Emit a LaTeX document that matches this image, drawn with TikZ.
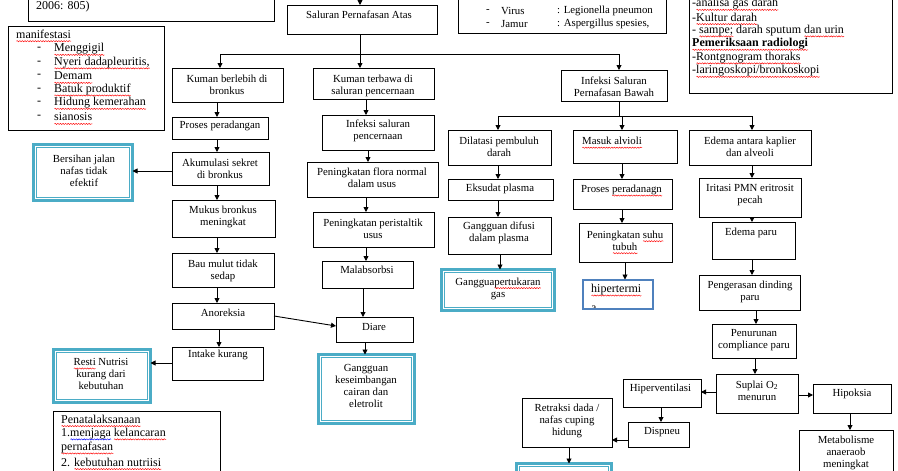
\documentclass[tikz,border=0pt]{standalone}
\usepackage{fontspec}
\setmainfont{Liberation Serif}
\usetikzlibrary{arrows.meta,decorations.pathmorphing}
\definecolor{cy}{RGB}{75,172,198}
\definecolor{bl}{RGB}{79,129,189}
\newsavebox\wvb
\newdimen\wvd
\newcommand\wv[2]{\sbox\wvb{#2}\wvd=\wd\wvb\smash{\rlap{\tikz[baseline={(0pt,3pt)}]\draw[#1,line width=0.45pt,decorate,decoration={snake,amplitude=0.6pt,segment length=2.6pt}] (0pt,0pt) -- (\the\wvd,0pt);}}\usebox\wvb}
\newcommand\rw[1]{\wv{red}{#1}}
\newcommand\bw[1]{\wv{blue}{#1}}
\tikzset{
 bxs/.style={draw,line width=0.9pt,inner sep=0pt,outer sep=0pt},
 cbs/.style={draw=cy,line width=3pt,inner sep=0pt,outer sep=0pt},
 ft/.style={font=\fontsize{10.8}{12}\selectfont,align=center,inner sep=0pt},
 lt/.style={font=\fontsize{12}{13.5}\selectfont,align=left,inner sep=0pt,anchor=west},
 arr/.style={line width=0.9pt,-{Triangle[length=5pt,width=5pt]}},
 ln/.style={line width=0.9pt}
}
\newcommand\bx[5]{\node[bxs,minimum width={#3-#1},minimum height={#4-#2}] (#5) at ({(#1+#3)/2},{(#2+#4)/2}) {};}
\newcommand\cbx[5]{\node[cbs,minimum width={#3-#1-3},minimum height={#4-#2-3}] (#5) at ({(#1+#3)/2},{(#2+#4)/2}) {};
\draw[draw=cy,line width=0.8pt] ([shift={(3,3)}]#5.north west) rectangle ([shift={(-3,-3)}]#5.south east);}
\begin{document}
\begin{tikzpicture}[x=1pt,y=-1pt]
\useasboundingbox (0,0) rectangle (898,471);
\clip (0,0) rectangle (898,471);
% ---------- text boxes ----------
\bx{28}{-5}{274}{21}{T0}
\node[lt] (T0t) at (36,7) {2006: 805)};
\bx{8}{26}{164}{130}{M}
\node[lt] (Mt) at (16,34) {\rw{manifestasi}};
\node[lt] (Md1) at (37,49) {-}; \node[lt] (Mi1) at (54,49) {\rw{Menggigil}};
\node[lt] (Md2) at (37,62.5) {-}; \node[lt] (Mi2) at (54,62.5) {\rw{Nyeri dadapleuritis,}};
\node[lt] (Md3) at (37,76) {-}; \node[lt] (Mi3) at (54,76) {\rw{Demam}};
\node[lt] (Md4) at (37,89.5) {-}; \node[lt] (Mi4) at (54,89.5) {\rw{Batuk produktif}};
\node[lt] (Md5) at (37,103) {-}; \node[lt] (Mi5) at (54,103) {\rw{Hidung kemerahan}};
\node[lt] (Md6) at (37,117) {-}; \node[lt] (Mi6) at (54,117) {\rw{sianosis}};
\bx{458}{-5}{666}{33}{V}
\node[ft,anchor=west] (Vd1) at (486,11) {-}; \node[ft,anchor=west] (Vv) at (501,11) {Virus}; \node[ft,anchor=west] (Vl) at (557,11) {: Legionella pneumon};
\node[ft,anchor=west] (Vd2) at (486,24) {-}; \node[ft,anchor=west] (Vj) at (501,24) {Jamur}; \node[ft,anchor=west] (Va) at (557,24) {: Aspergillus spesies,};
\bx{689}{-5}{892}{93}{R}
\node[lt] (R1) at (692,4) {-\rw{analisa gas darah}};
\node[lt] (R2) at (692,17) {-\rw{Kultur darah}};
\node[lt] (R3) at (692,30.5) {- \rw{sampe;} darah sputum \rw{dan urin}};
\node[lt] (R4) at (692,44) {\bfseries\rw{Pemeriksaan radiologi}};
\node[lt] (R5) at (692,57.5) {-\rw{Rontgnogram thoraks}};
\node[lt] (R6) at (692,71) {-\rw{laringoskopi/bronkoskopi}};
\bx{53}{411}{220}{490}{PN}
\node[lt] (PN1) at (61,419) {\rw{Penatalaksanaan}};
\node[lt] (PN2) at (61,433.5) {1.\bw{menjaga} \rw{kelancaran}};
\node[lt] (PN3) at (61,447.5) {\rw{pernafasan}};
\node[lt] (PN4) at (61,462) {2. \rw{kebutuhan nutriisi}};
% ---------- flow boxes ----------
\bx{287}{5}{437}{34}{S} \node[ft] (St) at (359,15) {Saluran Pernafasan Atas};
\bx{172}{68}{283}{102}{K1} \node[ft] (K1t) at (227,84.5) {Kuman berlebih di\\bronkus};
\bx{313}{68}{434}{99}{K2} \node[ft] (K2t) at (373,86) {Kuman terbawa di\\saluran pencernaan};
\bx{561}{70}{667}{101}{I} \node[ft] (It) at (614,87) {Infeksi Saluran\\Pernafasan Bawah};
\bx{172}{117}{268}{139}{P1} \node[ft] (P1t) at (220,126) {Proses peradangan};
\bx{172}{152}{269}{185}{A} \node[ft] (At) at (220,169) {Akumulasi sekret\\di bronkus};
\cbx{32}{143}{134}{202}{B1} \node[ft] (B1t) at (84,170.5) {Bersihan jalan\\nafas tidak\\efektif};
\bx{172}{200}{275}{237}{MB} \node[ft] (MBt) at (223,216.5) {Mukus bronkus\\meningkat};
\bx{172}{253}{274}{287}{BM} \node[ft] (BMt) at (223,270.5) {Bau mulut tidak\\sedap};
\bx{172}{303}{274}{329}{AN} \node[ft] (ANt) at (223,313) {Anoreksia};
\bx{172}{347}{263}{380}{IK} \node[ft] (IKt) at (218,355) {Intake kurang};
\cbx{52}{348}{152}{404}{RN} \node[ft] (RNt) at (101,374) {\rw{Resti} Nutrisi\\kurang dari\\kebutuhan};
\bx{322}{115}{434}{150}{ISP} \node[ft] (ISPt) at (378,131) {Infeksi saluran\\pencernaan};
\bx{307}{162}{438}{197}{PF} \node[ft] (PFt) at (372,178) {Peningkatan flora normal\\dalam usus};
\bx{313}{212}{434}{247}{PP} \node[ft] (PPt) at (373,228.5) {Peningkatan peristaltik\\usus};
\bx{322}{261}{413}{288}{MAL} \node[ft] (MALt) at (367,270) {Malabsorbsi};
\bx{336}{317}{413}{342}{D} \node[ft] (Dt) at (374,327) {Diare};
\cbx{317}{353}{416}{425}{G} \node[ft] (Gt) at (366,385.5) {Gangguan\\keseimbangan\\cairan dan\\eletrolit};
\bx{448}{130}{551}{165}{DL} \node[ft] (DLt) at (499,147) {Dilatasi pembuluh\\darah};
\bx{448}{179}{553}{200}{EP} \node[ft] (EPt) at (500,189) {Eksudat plasma};
\bx{448}{217}{551}{254}{GD} \node[ft] (GDt) at (499,232.5) {Gangguan difusi\\dalam plasma};
\cbx{440}{268}{556}{312}{GP} \node[ft] (GPt) at (498,288.5) {Ganggua\rw{pertukaran}\\gas};
\bx{573}{130}{677}{163}{MA} \node[ft] (MAt) at (612,141) {\rw{Masuk alvioli}};
\bx{573}{179}{672}{209}{PR} \node[ft] (PRt) at (621.5,190) {Proses \rw{peradanagn}};
\bx{579}{223}{672}{262}{PS} \node[ft] (PSt) at (625,240.5) {Peningkatan \rw{suhu}\\\rw{tubuh}};
\begin{scope}
\clip (583,280) rectangle (652,308);
\node[lt,anchor=north west] (HTt) at (591,284) {\rw{hipertermi}\\[5pt]a};
\end{scope}
\node[draw=bl,line width=2pt,inner sep=0pt,outer sep=0pt,minimum width=70,minimum height=29] (HT) at (617.5,294) {};
\bx{689}{130}{811}{165}{EA} \node[ft] (EAt) at (750,147) {Edema antara kaplier\\dan alveoli};
\bx{699}{178}{801}{217}{IR} \node[ft] (IRt) at (750,195.5) {Iritasi PMN eritrosit\\pecah};
\bx{712}{222}{795}{259}{EDP} \node[ft] (EDPt) at (751,233) {Edema paru};
\bx{699}{275}{800}{310}{PG} \node[ft] (PGt) at (750,291.5) {Pengerasan dinding\\paru};
\bx{712}{324}{796}{358}{PC} \node[ft] (PCt) at (754,340.5) {Penurunan\\compliance paru};
\bx{716}{374}{798}{413}{SU} \node[ft] (SUt) at (757,390.5) {Suplai O\textsubscript{2}\\menurun};
\bx{623}{379}{701}{407}{HV} \node[ft] (HVt) at (660.5,389) {Hiperventilasi};
\bx{813}{384}{891}{413}{HK} \node[ft] (HKt) at (852,394) {Hipoksia};
\bx{799}{430}{893}{485}{MT} \node[ft] (MTt) at (846,452.5) {Metabolisme\\anaeraob\\meningkat};
\bx{628}{422}{689}{447}{DS} \node[ft] (DSt) at (662,432) {Dispneu};
\bx{522}{398}{612}{447}{RT} \node[ft] (RTt) at (567,421) {Retraksi dada /\\nafas cuping\\hidung};
\cbx{515}{462}{613}{492}{CB}
% ---------- connectors ----------
\coordinate (top) at (360,-10);
\coordinate (jm) at (360,54);
\coordinate (jl) at (220,54);
\coordinate (jr) at (619,54);
\coordinate (kl) at (498,116);
\coordinate (km) at (619,116);
\coordinate (kr) at (752,116);
\draw[arr] (top) -- (S.north -| top);
\draw[ln] (S.south -| jm) -- (jm);
\draw[ln] (jl) -- (jr);
\draw[arr] (jl) -- (K1.north -| jl);
\draw[arr] (jm) -- (K2.north -| jm);
\draw[arr] (jr) -- (I.north -| jr);
\draw[arr] (K1.south -| 217,0) -- (P1.north -| 217,0);
\draw[arr] (P1.south -| 217,0) -- (A.north -| 217,0);
\draw[arr] (A.west |- 0,171) -- (B1.east |- 0,171);
\draw[arr] (A.south -| 217,0) -- (MB.north -| 217,0);
\draw[arr] (MB.south -| 217,0) -- (BM.north -| 217,0);
\draw[arr] (BM.south -| 217,0) -- (AN.north -| 217,0);
\draw[arr] (AN.south -| 219,0) -- (IK.north -| 219,0);
\draw[arr] (IK.west |- 0,363) -- (RN.east |- 0,363);
\draw[arr] (AN.east) -- (D.west |- 0,326);
\draw[arr] (K2.south -| 366,0) -- (ISP.north -| 366,0);
\draw[arr] (ISP.south -| 368,0) -- (PF.north -| 368,0);
\draw[arr] (PF.south -| 366,0) -- (PP.north -| 366,0);
\draw[arr] (PP.south -| 366,0) -- (MAL.north -| 366,0);
\draw[arr] (MAL.south -| 363,0) -- (D.north -| 363,0);
\draw[arr] (D.south -| 365,0) -- (G.north -| 365,0);
\draw[ln] (I.south -| km) -- (km);
\draw[ln] (kl) -- (kr);
\draw[arr] (kl) -- (DL.north -| kl);
\draw[arr] (622,116) -- (MA.north -| 622,0);
\draw[arr] (kr) -- (EA.north -| kr);
\draw[arr] (DL.south -| 498,0) -- (EP.north -| 498,0);
\draw[arr] (EP.south -| 498,0) -- (GD.north -| 498,0);
\draw[arr] (GD.south -| 500,0) -- (GP.north -| 500,0);
\draw[arr] (MA.south -| 622,0) -- (PR.north -| 622,0);
\draw[arr] (PR.south -| 622,0) -- (PS.north -| 622,0);
\draw[arr] (PS.south -| 625,0) -- (HT.north -| 625,0);
\draw[arr] (EA.south -| 752,0) -- (IR.north -| 752,0);
\draw[arr] (IR.south -| 752,0) -- (EDP.north -| 752,0);
\draw[arr] (EDP.south -| 752,0) -- (PG.north -| 752,0);
\draw[arr] (PG.south -| 756,0) -- (PC.north -| 756,0);
\draw[arr] (PC.south -| 755,0) -- (SU.north -| 755,0);
\draw[arr] (SU.west |- 0,392) -- (HV.east |- 0,392);
\draw[arr] (SU.east |- 0,395) -- (HK.west |- 0,395);
\draw[arr] (HK.south -| 850,0) -- (MT.north -| 850,0);
\draw[arr] (HV.south -| 661,0) -- (DS.north -| 661,0);
\draw[arr] (DS.west |- 0,440) -- (RT.east |- 0,440);
\draw[arr] (RT.south -| 569,0) -- (CB.north -| 569,0);
\end{tikzpicture}
\end{document}
